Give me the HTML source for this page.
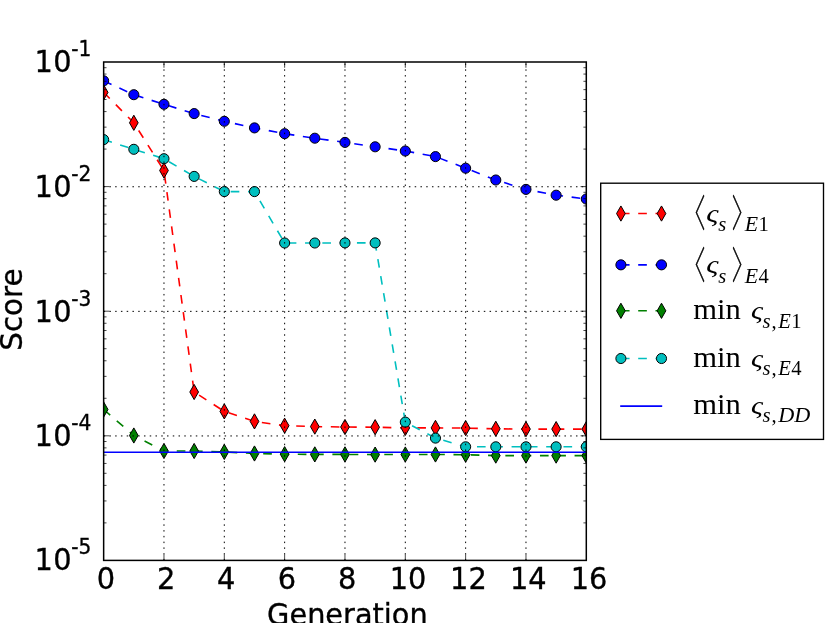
<!DOCTYPE html>
<html lang="en"><head><meta charset="utf-8"><title>Score vs Generation</title>
<style>html,body{margin:0;padding:0;background:#fff}svg{display:block}text{font-family:"DejaVu Sans","Liberation Sans",sans-serif;fill:#000}.m{font-family:"Liberation Serif","DejaVu Serif",serif}.b{font-family:"Noto Serif CJK SC","Noto Sans CJK SC","DejaVu Sans",sans-serif}</style></head>
<body>
<svg width="830" height="623" viewBox="0 0 830 623">
<rect width="830" height="623" fill="#fff"/>
<defs><clipPath id="ax"><rect x="103.65" y="62" width="482.65" height="498.4"/></clipPath></defs>
<g clip-path="url(#ax)">
<polyline points="103.65,92.4 133.82,122.8 163.98,170.5 194.15,392 224.31,411.4 254.48,421.4 284.64,425.7 314.81,426.6 344.98,427 375.14,427.2 405.31,427.9 435.47,427.9 465.64,428.1 495.8,428.8 525.97,429.1 556.13,429.1 586.3,429.1" fill="none" stroke="#ff0000" stroke-width="1.6" stroke-dasharray="8.65 8.65"/>
<path d="M103.65 84.8L108 92.4L103.65 100L99.3 92.4Z" fill="#ff0000" stroke="#000" stroke-width="1.0" stroke-linejoin="miter"/><path d="M133.82 115.2L138.17 122.8L133.82 130.4L129.47 122.8Z" fill="#ff0000" stroke="#000" stroke-width="1.0" stroke-linejoin="miter"/><path d="M163.98 162.9L168.33 170.5L163.98 178.1L159.63 170.5Z" fill="#ff0000" stroke="#000" stroke-width="1.0" stroke-linejoin="miter"/><path d="M194.15 384.4L198.5 392L194.15 399.6L189.8 392Z" fill="#ff0000" stroke="#000" stroke-width="1.0" stroke-linejoin="miter"/><path d="M224.31 403.8L228.66 411.4L224.31 419L219.96 411.4Z" fill="#ff0000" stroke="#000" stroke-width="1.0" stroke-linejoin="miter"/><path d="M254.48 413.8L258.83 421.4L254.48 429L250.13 421.4Z" fill="#ff0000" stroke="#000" stroke-width="1.0" stroke-linejoin="miter"/><path d="M284.64 418.1L288.99 425.7L284.64 433.3L280.29 425.7Z" fill="#ff0000" stroke="#000" stroke-width="1.0" stroke-linejoin="miter"/><path d="M314.81 419L319.16 426.6L314.81 434.2L310.46 426.6Z" fill="#ff0000" stroke="#000" stroke-width="1.0" stroke-linejoin="miter"/><path d="M344.98 419.4L349.33 427L344.98 434.6L340.62 427Z" fill="#ff0000" stroke="#000" stroke-width="1.0" stroke-linejoin="miter"/><path d="M375.14 419.6L379.49 427.2L375.14 434.8L370.79 427.2Z" fill="#ff0000" stroke="#000" stroke-width="1.0" stroke-linejoin="miter"/><path d="M405.31 420.3L409.66 427.9L405.31 435.5L400.96 427.9Z" fill="#ff0000" stroke="#000" stroke-width="1.0" stroke-linejoin="miter"/><path d="M435.47 420.3L439.82 427.9L435.47 435.5L431.12 427.9Z" fill="#ff0000" stroke="#000" stroke-width="1.0" stroke-linejoin="miter"/><path d="M465.64 420.5L469.99 428.1L465.64 435.7L461.29 428.1Z" fill="#ff0000" stroke="#000" stroke-width="1.0" stroke-linejoin="miter"/><path d="M495.8 421.2L500.15 428.8L495.8 436.4L491.45 428.8Z" fill="#ff0000" stroke="#000" stroke-width="1.0" stroke-linejoin="miter"/><path d="M525.97 421.5L530.32 429.1L525.97 436.7L521.62 429.1Z" fill="#ff0000" stroke="#000" stroke-width="1.0" stroke-linejoin="miter"/><path d="M556.13 421.5L560.48 429.1L556.13 436.7L551.78 429.1Z" fill="#ff0000" stroke="#000" stroke-width="1.0" stroke-linejoin="miter"/><path d="M586.3 421.5L590.65 429.1L586.3 436.7L581.95 429.1Z" fill="#ff0000" stroke="#000" stroke-width="1.0" stroke-linejoin="miter"/>
<polyline points="103.65,80.8 133.82,94.7 163.98,104.3 194.15,113.6 224.31,121.3 254.48,127.9 284.64,133.7 314.81,138.2 344.98,142.4 375.14,146.8 405.31,151 435.47,156.6 465.64,168.2 495.8,180 525.97,189.4 556.13,195.2 586.3,199" fill="none" stroke="#0000ff" stroke-width="1.6" stroke-dasharray="8.65 8.65"/>
<circle cx="103.65" cy="80.8" r="5.05" fill="#0000ff" stroke="#000" stroke-width="1.0"/><circle cx="133.82" cy="94.7" r="5.05" fill="#0000ff" stroke="#000" stroke-width="1.0"/><circle cx="163.98" cy="104.3" r="5.05" fill="#0000ff" stroke="#000" stroke-width="1.0"/><circle cx="194.15" cy="113.6" r="5.05" fill="#0000ff" stroke="#000" stroke-width="1.0"/><circle cx="224.31" cy="121.3" r="5.05" fill="#0000ff" stroke="#000" stroke-width="1.0"/><circle cx="254.48" cy="127.9" r="5.05" fill="#0000ff" stroke="#000" stroke-width="1.0"/><circle cx="284.64" cy="133.7" r="5.05" fill="#0000ff" stroke="#000" stroke-width="1.0"/><circle cx="314.81" cy="138.2" r="5.05" fill="#0000ff" stroke="#000" stroke-width="1.0"/><circle cx="344.98" cy="142.4" r="5.05" fill="#0000ff" stroke="#000" stroke-width="1.0"/><circle cx="375.14" cy="146.8" r="5.05" fill="#0000ff" stroke="#000" stroke-width="1.0"/><circle cx="405.31" cy="151" r="5.05" fill="#0000ff" stroke="#000" stroke-width="1.0"/><circle cx="435.47" cy="156.6" r="5.05" fill="#0000ff" stroke="#000" stroke-width="1.0"/><circle cx="465.64" cy="168.2" r="5.05" fill="#0000ff" stroke="#000" stroke-width="1.0"/><circle cx="495.8" cy="180" r="5.05" fill="#0000ff" stroke="#000" stroke-width="1.0"/><circle cx="525.97" cy="189.4" r="5.05" fill="#0000ff" stroke="#000" stroke-width="1.0"/><circle cx="556.13" cy="195.2" r="5.05" fill="#0000ff" stroke="#000" stroke-width="1.0"/><circle cx="586.3" cy="199" r="5.05" fill="#0000ff" stroke="#000" stroke-width="1.0"/>
<polyline points="103.65,409.5 133.82,435.5 163.98,451 194.15,451 224.31,451.9 254.48,453.5 284.64,454.2 314.81,454.4 344.98,454.4 375.14,454.6 405.31,454.5 435.47,454.5 465.64,454.7 495.8,455.6 525.97,455.6 556.13,455.6 586.3,455.6" fill="none" stroke="#008000" stroke-width="1.6" stroke-dasharray="8.65 8.65"/>
<path d="M103.65 401.9L108 409.5L103.65 417.1L99.3 409.5Z" fill="#008000" stroke="#000" stroke-width="1.0" stroke-linejoin="miter"/><path d="M133.82 427.9L138.17 435.5L133.82 443.1L129.47 435.5Z" fill="#008000" stroke="#000" stroke-width="1.0" stroke-linejoin="miter"/><path d="M163.98 443.4L168.33 451L163.98 458.6L159.63 451Z" fill="#008000" stroke="#000" stroke-width="1.0" stroke-linejoin="miter"/><path d="M194.15 443.4L198.5 451L194.15 458.6L189.8 451Z" fill="#008000" stroke="#000" stroke-width="1.0" stroke-linejoin="miter"/><path d="M224.31 444.3L228.66 451.9L224.31 459.5L219.96 451.9Z" fill="#008000" stroke="#000" stroke-width="1.0" stroke-linejoin="miter"/><path d="M254.48 445.9L258.83 453.5L254.48 461.1L250.13 453.5Z" fill="#008000" stroke="#000" stroke-width="1.0" stroke-linejoin="miter"/><path d="M284.64 446.6L288.99 454.2L284.64 461.8L280.29 454.2Z" fill="#008000" stroke="#000" stroke-width="1.0" stroke-linejoin="miter"/><path d="M314.81 446.8L319.16 454.4L314.81 462L310.46 454.4Z" fill="#008000" stroke="#000" stroke-width="1.0" stroke-linejoin="miter"/><path d="M344.98 446.8L349.33 454.4L344.98 462L340.62 454.4Z" fill="#008000" stroke="#000" stroke-width="1.0" stroke-linejoin="miter"/><path d="M375.14 447L379.49 454.6L375.14 462.2L370.79 454.6Z" fill="#008000" stroke="#000" stroke-width="1.0" stroke-linejoin="miter"/><path d="M405.31 446.9L409.66 454.5L405.31 462.1L400.96 454.5Z" fill="#008000" stroke="#000" stroke-width="1.0" stroke-linejoin="miter"/><path d="M435.47 446.9L439.82 454.5L435.47 462.1L431.12 454.5Z" fill="#008000" stroke="#000" stroke-width="1.0" stroke-linejoin="miter"/><path d="M465.64 447.1L469.99 454.7L465.64 462.3L461.29 454.7Z" fill="#008000" stroke="#000" stroke-width="1.0" stroke-linejoin="miter"/><path d="M495.8 448L500.15 455.6L495.8 463.2L491.45 455.6Z" fill="#008000" stroke="#000" stroke-width="1.0" stroke-linejoin="miter"/><path d="M525.97 448L530.32 455.6L525.97 463.2L521.62 455.6Z" fill="#008000" stroke="#000" stroke-width="1.0" stroke-linejoin="miter"/><path d="M556.13 448L560.48 455.6L556.13 463.2L551.78 455.6Z" fill="#008000" stroke="#000" stroke-width="1.0" stroke-linejoin="miter"/><path d="M586.3 448L590.65 455.6L586.3 463.2L581.95 455.6Z" fill="#008000" stroke="#000" stroke-width="1.0" stroke-linejoin="miter"/>
<polyline points="103.65,139.6 133.82,149.3 163.98,158.7 194.15,176.4 224.31,191.6 254.48,191.6 284.64,243 314.81,243 344.98,242.9 375.14,242.9 405.31,422.1 435.47,438.1 465.64,446.8 495.8,446.8 525.97,446.8 556.13,446.8 586.3,446.8" fill="none" stroke="#00bfbf" stroke-width="1.6" stroke-dasharray="8.65 8.65"/>
<circle cx="103.65" cy="139.6" r="5.05" fill="#00bfbf" stroke="#000" stroke-width="1.0"/><circle cx="133.82" cy="149.3" r="5.05" fill="#00bfbf" stroke="#000" stroke-width="1.0"/><circle cx="163.98" cy="158.7" r="5.05" fill="#00bfbf" stroke="#000" stroke-width="1.0"/><circle cx="194.15" cy="176.4" r="5.05" fill="#00bfbf" stroke="#000" stroke-width="1.0"/><circle cx="224.31" cy="191.6" r="5.05" fill="#00bfbf" stroke="#000" stroke-width="1.0"/><circle cx="254.48" cy="191.6" r="5.05" fill="#00bfbf" stroke="#000" stroke-width="1.0"/><circle cx="284.64" cy="243" r="5.05" fill="#00bfbf" stroke="#000" stroke-width="1.0"/><circle cx="314.81" cy="243" r="5.05" fill="#00bfbf" stroke="#000" stroke-width="1.0"/><circle cx="344.98" cy="242.9" r="5.05" fill="#00bfbf" stroke="#000" stroke-width="1.0"/><circle cx="375.14" cy="242.9" r="5.05" fill="#00bfbf" stroke="#000" stroke-width="1.0"/><circle cx="405.31" cy="422.1" r="5.05" fill="#00bfbf" stroke="#000" stroke-width="1.0"/><circle cx="435.47" cy="438.1" r="5.05" fill="#00bfbf" stroke="#000" stroke-width="1.0"/><circle cx="465.64" cy="446.8" r="5.05" fill="#00bfbf" stroke="#000" stroke-width="1.0"/><circle cx="495.8" cy="446.8" r="5.05" fill="#00bfbf" stroke="#000" stroke-width="1.0"/><circle cx="525.97" cy="446.8" r="5.05" fill="#00bfbf" stroke="#000" stroke-width="1.0"/><circle cx="556.13" cy="446.8" r="5.05" fill="#00bfbf" stroke="#000" stroke-width="1.0"/><circle cx="586.3" cy="446.8" r="5.05" fill="#00bfbf" stroke="#000" stroke-width="1.0"/>
<line x1="103.65" y1="452.25" x2="586.3" y2="452.25" stroke="#0000ff" stroke-width="1.6"/>
</g>
<path d="M163.98 560.4V62M224.31 560.4V62M284.64 560.4V62M344.98 560.4V62M405.31 560.4V62M465.64 560.4V62M525.97 560.4V62M103.65 186.75H586.3M103.65 311.35H586.3M103.65 435.95H586.3" fill="none" stroke="#000" stroke-width="1" stroke-dasharray="1.5 4.26"/>
<path d="M163.98 560.4v-5.76M163.98 62v5.76M224.31 560.4v-5.76M224.31 62v5.76M284.64 560.4v-5.76M284.64 62v5.76M344.98 560.4v-5.76M344.98 62v5.76M405.31 560.4v-5.76M405.31 62v5.76M465.64 560.4v-5.76M465.64 62v5.76M525.97 560.4v-5.76M525.97 62v5.76M103.65 186.6h5.76M586.3 186.6h-5.76M103.65 311.2h5.76M586.3 311.2h-5.76M103.65 435.8h5.76M586.3 435.8h-5.76M103.65 149.09h2.88M586.3 149.09h-2.88M103.65 127.15h2.88M586.3 127.15h-2.88M103.65 111.58h2.88M586.3 111.58h-2.88M103.65 99.51h2.88M586.3 99.51h-2.88M103.65 89.64h2.88M586.3 89.64h-2.88M103.65 81.3h2.88M586.3 81.3h-2.88M103.65 74.07h2.88M586.3 74.07h-2.88M103.65 67.7h2.88M586.3 67.7h-2.88M103.65 273.69h2.88M586.3 273.69h-2.88M103.65 251.75h2.88M586.3 251.75h-2.88M103.65 236.18h2.88M586.3 236.18h-2.88M103.65 224.11h2.88M586.3 224.11h-2.88M103.65 214.24h2.88M586.3 214.24h-2.88M103.65 205.9h2.88M586.3 205.9h-2.88M103.65 198.67h2.88M586.3 198.67h-2.88M103.65 192.3h2.88M586.3 192.3h-2.88M103.65 398.29h2.88M586.3 398.29h-2.88M103.65 376.35h2.88M586.3 376.35h-2.88M103.65 360.78h2.88M586.3 360.78h-2.88M103.65 348.71h2.88M586.3 348.71h-2.88M103.65 338.84h2.88M586.3 338.84h-2.88M103.65 330.5h2.88M586.3 330.5h-2.88M103.65 323.27h2.88M586.3 323.27h-2.88M103.65 316.9h2.88M586.3 316.9h-2.88M103.65 522.89h2.88M586.3 522.89h-2.88M103.65 500.95h2.88M586.3 500.95h-2.88M103.65 485.38h2.88M586.3 485.38h-2.88M103.65 473.31h2.88M586.3 473.31h-2.88M103.65 463.44h2.88M586.3 463.44h-2.88M103.65 455.1h2.88M586.3 455.1h-2.88M103.65 447.87h2.88M586.3 447.87h-2.88M103.65 441.5h2.88M586.3 441.5h-2.88" fill="none" stroke="#000" stroke-width="0.72"/>
<rect x="103.65" y="62" width="482.65" height="498.4" fill="none" stroke="#000" stroke-width="1.5"/>
<g stroke="#000" stroke-width="0.33">
<text transform="translate(105.95 588.8) scale(1 1.03)" font-size="28.8" text-anchor="middle">0</text><text transform="translate(166.28 588.8) scale(1 1.03)" font-size="28.8" text-anchor="middle">2</text><text transform="translate(226.11 588.8) scale(1 1.03)" font-size="28.8" text-anchor="middle">4</text><text transform="translate(286.94 588.8) scale(1 1.03)" font-size="28.8" text-anchor="middle">6</text><text transform="translate(347.28 588.8) scale(1 1.03)" font-size="28.8" text-anchor="middle">8</text><text transform="translate(408.11 588.8) scale(1 1.03)" font-size="28.8" text-anchor="middle">10</text><text transform="translate(468.44 588.8) scale(1 1.03)" font-size="28.8" text-anchor="middle">12</text><text transform="translate(528.27 588.8) scale(1 1.03)" font-size="28.8" text-anchor="middle">14</text><text transform="translate(589 588.8) scale(1 1.03)" font-size="28.8" text-anchor="middle">16</text>
<text transform="translate(347.4 625) scale(1 1.03)" font-size="28.8" text-anchor="middle">Generation</text>
<text transform="translate(22.4 309.6) rotate(-90) scale(1.02 1.03)" font-size="28.8" text-anchor="middle">Score</text>
<text transform="translate(34.4 72.1) scale(1 1.03)" font-size="28.8" text-anchor="start">1</text><text transform="translate(53.3 72.1) scale(1 1.03)" font-size="28.8" text-anchor="start">0</text><text transform="translate(71.3 56.2) scale(1 1.04)" font-size="20.16" text-anchor="start">-1</text>
<text transform="translate(34.4 196.7) scale(1 1.03)" font-size="28.8" text-anchor="start">1</text><text transform="translate(53.3 196.7) scale(1 1.03)" font-size="28.8" text-anchor="start">0</text><text transform="translate(71.3 180.8) scale(1 1.04)" font-size="20.16" text-anchor="start">-2</text>
<text transform="translate(34.4 322) scale(1 1.03)" font-size="28.8" text-anchor="start">1</text><text transform="translate(53.3 322) scale(1 1.03)" font-size="28.8" text-anchor="start">0</text><text transform="translate(71.3 306.1) scale(1 1.04)" font-size="20.16" text-anchor="start">-3</text>
<text transform="translate(34.4 445.8) scale(1 1.03)" font-size="28.8" text-anchor="start">1</text><text transform="translate(53.3 445.8) scale(1 1.03)" font-size="28.8" text-anchor="start">0</text><text transform="translate(71.3 429.9) scale(1 1.04)" font-size="20.16" text-anchor="start">-4</text>
<text transform="translate(34.4 570.1) scale(1 1.03)" font-size="28.8" text-anchor="start">1</text><text transform="translate(53.3 570.1) scale(1 1.03)" font-size="28.8" text-anchor="start">0</text><text transform="translate(71.3 554.2) scale(1 1.04)" font-size="20.16" text-anchor="start">-5</text>
</g>
<rect x="600.7" y="183.2" width="222.8" height="256.2" fill="#fff" stroke="#000" stroke-width="1.35"/>
<line x1="620.9" y1="213.55" x2="661.5" y2="213.55" stroke="#ff0000" stroke-width="1.6" stroke-dasharray="8.65 8.65"/><path d="M620.9 205.95L625.25 213.55L620.9 221.15L616.55 213.55Z" fill="#ff0000" stroke="#000" stroke-width="1.0" stroke-linejoin="miter"/><path d="M661.5 205.95L665.85 213.55L661.5 221.15L657.15 213.55Z" fill="#ff0000" stroke="#000" stroke-width="1.0" stroke-linejoin="miter"/>
<line x1="620.9" y1="264.85" x2="661.5" y2="264.85" stroke="#0000ff" stroke-width="1.6" stroke-dasharray="8.65 8.65"/><circle cx="620.9" cy="264.85" r="5.05" fill="#0000ff" stroke="#000" stroke-width="1.0"/><circle cx="661.5" cy="264.85" r="5.05" fill="#0000ff" stroke="#000" stroke-width="1.0"/>
<line x1="620.9" y1="310.8" x2="661.5" y2="310.8" stroke="#008000" stroke-width="1.6" stroke-dasharray="8.65 8.65"/><path d="M620.9 303.2L625.25 310.8L620.9 318.4L616.55 310.8Z" fill="#008000" stroke="#000" stroke-width="1.0" stroke-linejoin="miter"/><path d="M661.5 303.2L665.85 310.8L661.5 318.4L657.15 310.8Z" fill="#008000" stroke="#000" stroke-width="1.0" stroke-linejoin="miter"/>
<line x1="620.9" y1="358.5" x2="661.5" y2="358.5" stroke="#00bfbf" stroke-width="1.6" stroke-dasharray="8.65 8.65"/><circle cx="620.9" cy="358.5" r="5.05" fill="#00bfbf" stroke="#000" stroke-width="1.0"/><circle cx="661.5" cy="358.5" r="5.05" fill="#00bfbf" stroke="#000" stroke-width="1.0"/>
<line x1="620.2" y1="406.1" x2="662.2" y2="406.1" stroke="#0000ff" stroke-width="1.6"/>
<text transform="translate(685.52 227.27) scale(0.52 1)" font-size="37.3" class="b" stroke="#000" stroke-width="0.6">〈</text><text transform="translate(706.3 221.7) scale(1.05 0.86)" font-size="28.8" class="m" font-style="italic">ς</text><text transform="translate(718.2 231.2)" font-size="20.6" class="m" font-style="italic">s</text><text transform="translate(732.18 227.27) scale(0.52 1)" font-size="37.3" class="b" stroke="#000" stroke-width="0.6">〉</text><text transform="translate(744.7 231.2) scale(1.06 1)" font-size="20.6" class="m" font-style="italic">E</text><text transform="translate(758.6 231.2)" font-size="20.6" class="m">1</text>
<text transform="translate(685.52 278.57) scale(0.52 1)" font-size="37.3" class="b" stroke="#000" stroke-width="0.6">〈</text><text transform="translate(706.3 273) scale(1.05 0.86)" font-size="28.8" class="m" font-style="italic">ς</text><text transform="translate(718.2 282.5)" font-size="20.6" class="m" font-style="italic">s</text><text transform="translate(732.18 278.57) scale(0.52 1)" font-size="37.3" class="b" stroke="#000" stroke-width="0.6">〉</text><text transform="translate(744.7 282.5) scale(1.06 1)" font-size="20.6" class="m" font-style="italic">E</text><text transform="translate(758.6 282.5)" font-size="20.6" class="m">4</text>
<text x="693.2" y="319.4" font-size="28.8" class="m" textLength="47.6" lengthAdjust="spacingAndGlyphs">min</text><text transform="translate(750.9 319) scale(1.03 0.86)" font-size="28.8" class="m" font-style="italic">ς</text><text transform="translate(762.4 327.5)" font-size="20.6" class="m" font-style="italic">s</text><text transform="translate(771.6 327.5)" font-size="20.6" class="m">,</text><text transform="translate(778.2 327.5)" font-size="20.6" class="m" font-style="italic">E</text><text transform="translate(791.2 327.5)" font-size="20.6" class="m">1</text>
<text x="693.2" y="367.2" font-size="28.8" class="m" textLength="47.6" lengthAdjust="spacingAndGlyphs">min</text><text transform="translate(750.9 366.8) scale(1.03 0.86)" font-size="28.8" class="m" font-style="italic">ς</text><text transform="translate(762.4 375.3)" font-size="20.6" class="m" font-style="italic">s</text><text transform="translate(771.6 375.3)" font-size="20.6" class="m">,</text><text transform="translate(778.2 375.3)" font-size="20.6" class="m" font-style="italic">E</text><text transform="translate(791.2 375.3)" font-size="20.6" class="m">4</text>
<text x="693.2" y="414.3" font-size="28.8" class="m" textLength="47.6" lengthAdjust="spacingAndGlyphs">min</text><text transform="translate(750.9 413.9) scale(1.03 0.86)" font-size="28.8" class="m" font-style="italic">ς</text><text transform="translate(762.4 422.4)" font-size="20.6" class="m" font-style="italic">s</text><text transform="translate(771.6 422.4)" font-size="20.6" class="m">,</text><text transform="translate(778.2 422.4) scale(1.08 1)" font-size="20.6" class="m" font-style="italic">DD</text>
</svg>
</body></html>
